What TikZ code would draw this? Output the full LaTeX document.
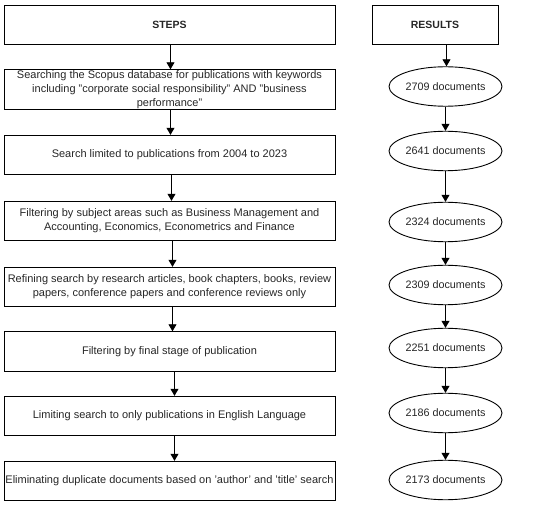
\documentclass[tikz,border=0pt]{standalone}
\usepackage{fontspec}
\setmainfont{Liberation Sans}
\usetikzlibrary{shapes.geometric,arrows.meta}
\begin{document}
\begin{tikzpicture}[x=1pt,y=-1pt,
  stepbox/.style={draw=black,line width=0.9pt,minimum width=331pt,minimum height=39.5pt,inner sep=0pt,align=center,font=\fontsize{11}{14.3}\selectfont,text=black!85},
  headbox/.style={draw=black,line width=0.9pt,minimum height=39pt,inner sep=0pt,font=\fontsize{10.5}{12}\selectfont\bfseries,text=black!85},
  resell/.style={draw=black,ellipse,line width=0.9pt,minimum width=113pt,minimum height=39.5pt,inner sep=0pt,font=\fontsize{10.8}{12}\selectfont,text=black!85},
  arr/.style={-{Triangle[length=7pt,width=8pt]},line width=0.9pt}]
\useasboundingbox (0,0) rectangle (550,505);
\node[headbox,minimum width=331pt] (steps) at (169.5,24.5) {STEPS};
\node[headbox,minimum width=126pt] (results) at (435,24.5) {RESULTS};
\node[stepbox] (s1) at (169.5,89.5) {Searching the Scopus database for publications with keywords\\including "corporate social responsibility" AND "business\\performance"};
\node[stepbox] (s2) at (169.5,155) {Search limited to publications from 2004 to 2023};
\node[stepbox] (s3) at (169.5,221) {Filtering by subject areas such as Business Management and\\Accounting, Economics, Econometrics and Finance};
\node[stepbox] (s4) at (169.5,287) {Refining search by research articles, book chapters, books, review\\papers, conference papers and conference reviews only};
\node[stepbox] (s5) at (169.5,351.5) {Filtering by final stage of publication};
\node[stepbox] (s6) at (169.5,416) {Limiting search to only publications in English Language};
\node[stepbox] (s7) at (169.5,481) {Eliminating duplicate documents based on 'author' and 'title' search};
\node[resell] (r1) at (445.5,86.5) {2709 documents};
\node[resell] (r2) at (445.5,151) {2641 documents};
\node[resell] (r3) at (445.5,222) {2324 documents};
\node[resell] (r4) at (445.5,285) {2309 documents};
\node[resell] (r5) at (445.5,348) {2251 documents};
\node[resell] (r6) at (445.5,413) {2186 documents};
\node[resell] (r7) at (445.5,480) {2173 documents};
\draw[arr] (steps.south) ++(1,0) coordinate (a0) -- (a0 |- s1.north);
\foreach \a/\b/\dx in {s1/s2/1,s2/s3/2,s3/s4/3,s4/s5/3,s5/s6/5,s6/s7/5}{
  \draw[arr] ([xshift=\dx pt]\a.south) -- ([xshift=\dx pt]\b.north);
}
\draw[arr] ([xshift=1pt]r1.north |- results.south) -- ([xshift=1pt]r1.north);
\foreach \a/\b in {r1/r2,r2/r3,r3/r4,r4/r5,r5/r6,r6/r7}{
  \draw[arr] (\a.south) -- (\b.north);
}
\end{tikzpicture}
\end{document}
